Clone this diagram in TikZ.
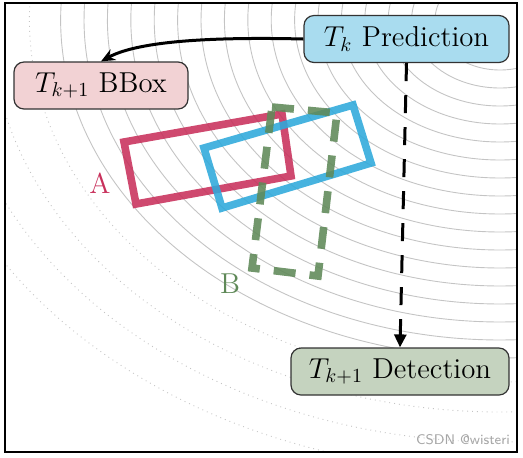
\documentclass[tikz,border=0pt]{standalone}
\usetikzlibrary{arrows.meta, positioning}
\definecolor{cred}{HTML}{C8305B}
\definecolor{cblue}{HTML}{2DA9DB}
\definecolor{cgreen}{HTML}{5F8958}
\definecolor{credfill}{HTML}{F2D2D4}
\definecolor{cbluefill}{HTML}{A9DCEF}
\definecolor{cgreenfill}{HTML}{C5D3BF}
\definecolor{ccloud}{HTML}{C4C4C4}
\tikzset{
  every picture/.style={line width=1.5pt},
  box/.style={draw=black!80, line width=0.6pt, fill=#1, rounded corners=5pt, minimum height=23.5pt, inner sep=2pt, font=\Large},
  box/.default=white,
  arrow/.style={-{Stealth[length=7pt, width=6pt]}, draw=black, line width=1.5pt},
  trackbox/.style={draw=#1, line width=3.8pt, line join=miter, opacity=0.88},
  tag/.style={font=\Large, inner sep=0pt},
  scanline/.style={draw=ccloud, line width=0.45pt},
}

\begin{document}
\begin{tikzpicture}[x=0.5pt, y=-0.5pt]
  \useasboundingbox (0,0) rectangle (523,457);
  % lidar rings in the background
  \begin{scope}
    \clip (5,3) rectangle (517,452);
    \foreach \r in {50,68,...,338}
      \draw[scanline] plot[domain=55:200, samples=50, smooth] ({500+1.3*\r*cos(\x)},{20+\r*sin(\x)});
    \foreach \r in {362,392,...,480}
      \draw[scanline, dotted] plot[domain=60:200, samples=60, smooth] ({500+1.3*\r*cos(\x)},{20+\r*sin(\x)});
  \end{scope}
  \draw[line width=0.8pt] (5,3) rectangle (517,452);
  % the three boxes on the scan
  \draw[trackbox=cred] (124,142) -- (282,114) -- (291,176) -- (136,204) -- cycle;
  \draw[trackbox=cblue] (204,148) -- (353,105) -- (371,163) -- (222,208) -- cycle;
  \draw[trackbox=cgreen, dash pattern=on 11pt off 7pt] (272,107) -- (337,113) -- (318,276) -- (252,268) -- cycle;
  \node[tag, text=cred] (labA) at (100,183) {A};
  \node[tag, text=cgreen] (labB) at (230,284) {B};
  % tracking steps
  \node[box=cbluefill, minimum width=102.5pt] (pred) at (406.5,39) {$T_k$ Prediction};
  \node[box=credfill, minimum width=87pt] (bbox) at (101,85.5) {$T_{k+1}$ BBox};
  \node[box=cgreenfill, minimum width=109pt] (det) at (400,371.5) {$T_{k+1}$ Detection};
  \draw[arrow] (pred.west) .. controls (220,37) and (140,40) .. (bbox.north);
  \draw[arrow, dash pattern=on 9pt off 7pt, -{Triangle[length=6.5pt, width=6pt]}] (pred.south) -- (det.north);
  \node[font=\sffamily\scriptsize, text=black!35] (mark) at (463,440) {CSDN @wisteri};
\end{tikzpicture}
\end{document}
